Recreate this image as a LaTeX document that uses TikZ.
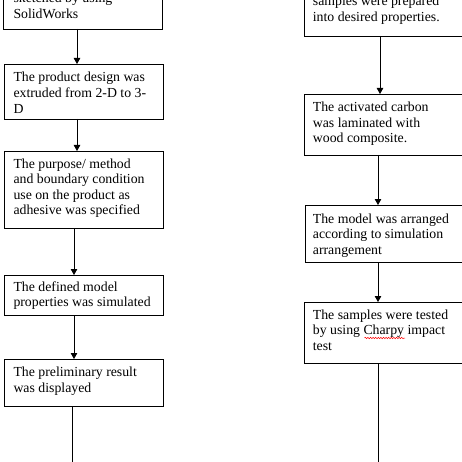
\documentclass[tikz,border=0pt]{standalone}
\usepackage{fontspec}
\setmainfont{Liberation Serif}
\usetikzlibrary{arrows.meta,calc,decorations.pathmorphing}
\tikzset{
  box/.style={draw, line width=0.9pt, rectangle, inner sep=0pt, outer sep=0pt, anchor=north west},
  txt/.style={inner sep=0pt, anchor=base west, font=\fontsize{13.8}{15.6}\selectfont},
  arr/.style={line width=0.9pt, -{Triangle[length=6pt,width=6.5pt]}},
  ln/.style={line width=0.9pt},
  wavy/.style={draw=red, line width=0.5pt, decorate, decoration={snake, amplitude=0.7pt, segment length=2.6pt}}
}
\newcommand{\boxtext}[1]{\parbox[t]{160pt}{\raggedright #1}}
\begin{document}
\begin{tikzpicture}[x=1pt, y=-1pt]
\useasboundingbox (0,0) rectangle (462,462);
\clip (0,0) rectangle (462,462);
% left column boxes
\node[box, minimum width=159pt, minimum height=54pt] (L1) at (3,-25) {};
\node[box, minimum width=159pt, minimum height=55pt] (L2) at (4,64) {};
\node[box, minimum width=159pt, minimum height=77pt] (L3) at (4,151) {};
\node[box, minimum width=159pt, minimum height=40pt] (L4) at (4,275) {};
\node[box, minimum width=159pt, minimum height=47pt] (L5) at (4,359) {};
% right column boxes
\node[box, minimum width=180pt, minimum height=61pt] (R1) at (304,-25) {};
\node[box, minimum width=180pt, minimum height=61pt] (R2) at (304,94) {};
\node[box, minimum width=180pt, minimum height=57pt] (R3) at (305,205) {};
\node[box, minimum width=180pt, minimum height=61pt] (R4) at (304,302) {};
% texts
\node[txt] (L1t) at (13.3,3) {\boxtext{sketched by using\\SolidWorks}};
\node[txt] (L2t) at (13.3,82) {\boxtext{The product design was\\extruded from 2-D to 3-\\D}};
\node[txt] (L3t) at (13.3,168) {\boxtext{The purpose/ method\\and boundary condition\\use on the product as\\adhesive was specified}};
\node[txt] (L4t) at (13.3,291) {\boxtext{The defined model\\properties was simulated}};
\node[txt] (L5t) at (13.3,376.5) {\boxtext{The preliminary result\\was displayed}};
\node[txt] (R1t) at (312.7,6) {\boxtext{samples were prepared\\into desired properties.}};
\node[txt] (R2t) at (312.7,111.7) {\boxtext{The activated carbon\\was laminated with\\wood composite.}};
\node[txt] (R3t) at (312.7,223.3) {\boxtext{The model was arranged\\according to simulation\\arrangement}};
\node[txt] (R4t) at (312.7,319.3) {\boxtext{The samples were tested\\by using Charpy impact\\test}};
\path[wavy] (364.5,338) -- (405,338);
% end coordinates
\coordinate (Lend) at (72,470);
\coordinate (Rend) at (378,470);
% left connectors
\draw[arr] ($(L1.south west)+(74,0)$) -- ($(L2.north west)+(73,0)$);
\draw[arr] ($(L2.south west)+(73,0)$) -- ($(L3.north west)+(73,0)$);
\draw[arr] ($(L3.south west)+(70,0)$) -- ($(L4.north west)+(70,0)$);
\draw[arr] ($(L4.south west)+(70,0)$) -- ($(L5.north west)+(70,0)$);
\draw[ln] ($(L5.south west)+(68,0)$) -- (Lend);
% right connectors
\draw[arr] ($(R1.south west)+(76,0)$) -- ($(R2.north west)+(76,0)$);
\draw[arr] ($(R2.south west)+(74,0)$) -- ($(R3.north west)+(73,0)$);
\draw[arr] ($(R3.south west)+(73,0)$) -- ($(R4.north west)+(74,0)$);
\draw[ln] ($(R4.south west)+(74,0)$) -- (Rend);
\end{tikzpicture}
\end{document}
